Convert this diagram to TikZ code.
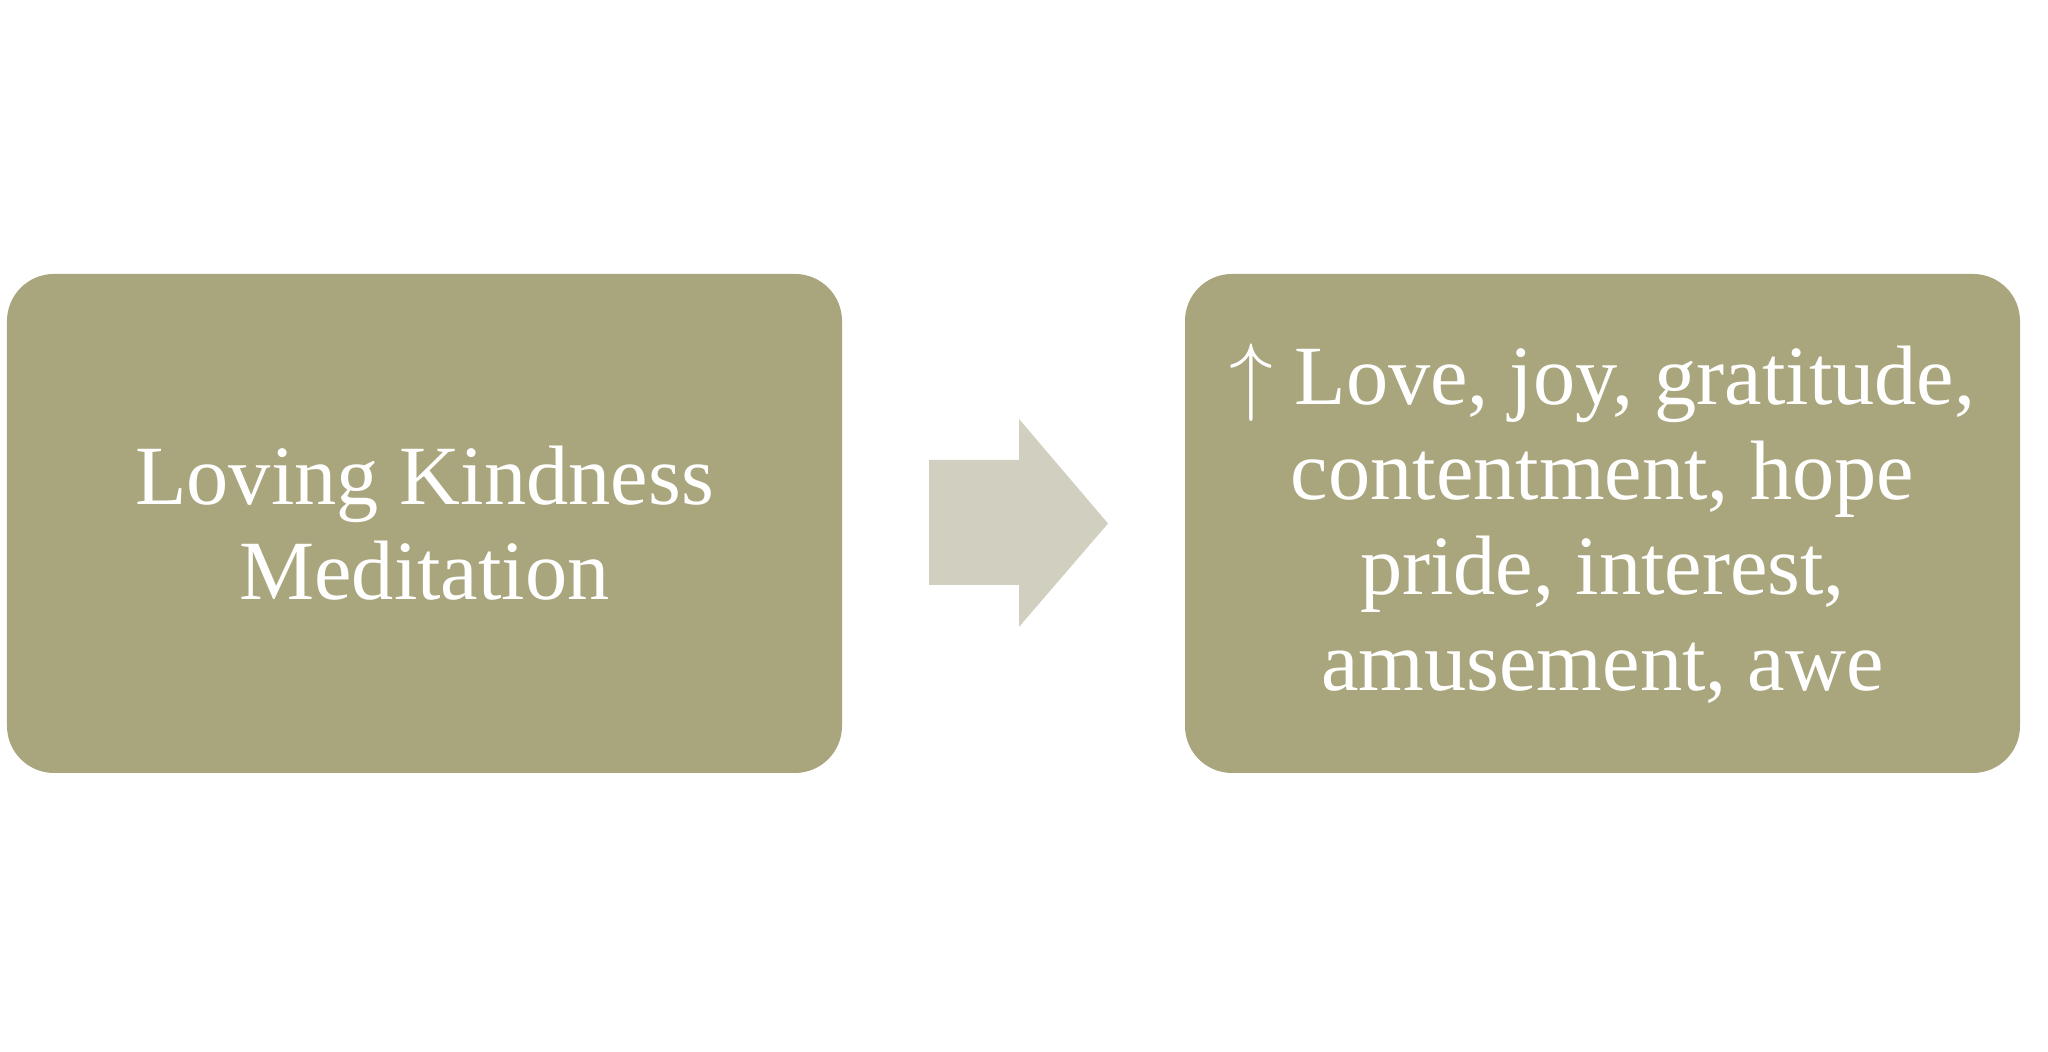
\documentclass[tikz,border=0pt]{standalone}
\usepackage{fontspec}
\setmainfont{Liberation Serif}
\usepackage{xcolor}
\usepackage{tikz}
\usetikzlibrary{positioning,calc}
\definecolor{olivebox}{RGB}{169,165,124}
\definecolor{arrowgrey}{RGB}{209,207,191}

\begin{document}
\begin{tikzpicture}[
    box/.style={fill=olivebox, rounded corners=0.47cm, minimum width=8.35cm, minimum height=4.99cm,
        text=white, align=center, font=\fontsize{24}{27.1}\selectfont}
]
    \useasboundingbox (0,0) rectangle (20.48,10.52);

    % Boxes
    \node[box] (kind) at (4.245,5.285) {Loving Kindness\\Meditation};
    \node[box] (emo) at (16.025,5.285) {$\uparrow$ Love, joy, gratitude,\\contentment, hope\\pride, interest,\\amusement, awe};

    % Arrow
    \fill[arrowgrey] (9.29,4.67) -- (10.19,4.67) -- (10.19,4.25) -- (11.08,5.285)
        -- (10.19,6.33) -- (10.19,5.92) -- (9.29,5.92) -- cycle;
\end{tikzpicture}
\end{document}
